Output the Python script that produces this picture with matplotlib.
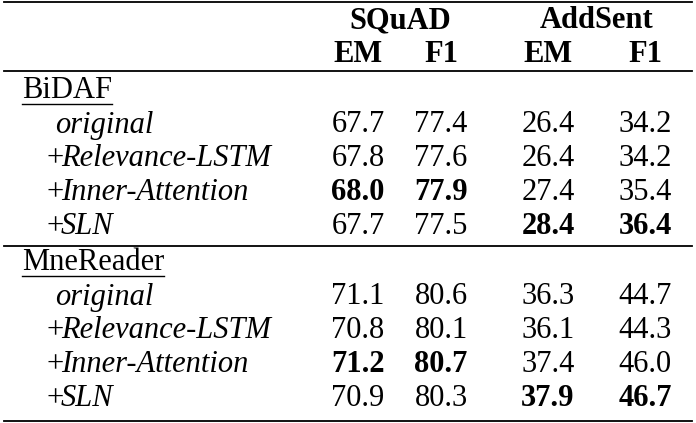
import matplotlib
matplotlib.use("Agg")
import matplotlib.pyplot as plt

groups = ["BiDAF", "MneReader"]
methods = ["original", "Relevance-LSTM", "Inner-Attention", "SLN"]
datasets = ["SQuAD", "AddSent"]
metrics = ["EM", "F1"]
bidaf = [[67.7, 77.4, 26.4, 34.2], [67.8, 77.6, 26.4, 34.2], [68.0, 77.9, 27.4, 35.4], [67.7, 77.5, 28.4, 36.4]]
mne = [[71.1, 80.6, 36.3, 44.7], [70.8, 80.1, 36.1, 44.3], [71.2, 80.7, 37.4, 46.0], [70.9, 80.3, 37.9, 46.7]]
tables = [bidaf, mne]

W, H = 696, 423
fig = plt.figure(figsize=(W/100, H/100), dpi=100)
ax = fig.add_axes([0, 0, 1, 1])
ax.set_xlim(0, W); ax.set_ylim(H, 0); ax.axis("off")
fam = "Liberation Serif"; fs = 22
colx = [358, 441, 548, 645]
dsx = [400, 597]
for x, d in zip(dsx, datasets):
    ax.text(x, 21, d, ha="center", va="center", family=fam, fontsize=fs, weight="bold")
for x, m in zip(colx, metrics * 2):
    ax.text(x, 54, m, ha="center", va="center", family=fam, fontsize=fs, weight="bold")
for y in [2, 71, 246, 421]:
    ax.plot([4, 692], [y, y], color="black", lw=1.3)
gy = [91, 263]
for g, y0, tab in zip(groups, gy, tables):
    t = ax.text(22, y0, g, ha="left", va="center", family=fam, fontsize=fs)
    fig.canvas.draw()
    bb = t.get_window_extent().transformed(ax.transData.inverted())
    ax.plot([bb.x0, bb.x1], [y0 + 13, y0 + 13], color="black", lw=1)
    for i, (m, row) in enumerate(zip(methods, tab)):
        y = y0 + 34 + 34 * i
        if i == 0:
            ax.text(55, y, m, ha="left", va="center", family=fam, fontsize=fs, style="italic")
        else:
            ax.text(47, y, "+", ha="left", va="center", family=fam, fontsize=fs)
            ax.text(61, y, m, ha="left", va="center", family=fam, fontsize=fs, style="italic")
        for c, v in enumerate(row):
            colvals = [r[c] for r in tab]
            bold = v == max(colvals)
            ax.text(colx[c], y, f"{v:.1f}", ha="center", va="center", family=fam,
                    fontsize=fs, weight="bold" if bold else "normal")
fig.savefig("out.png", dpi=100)
